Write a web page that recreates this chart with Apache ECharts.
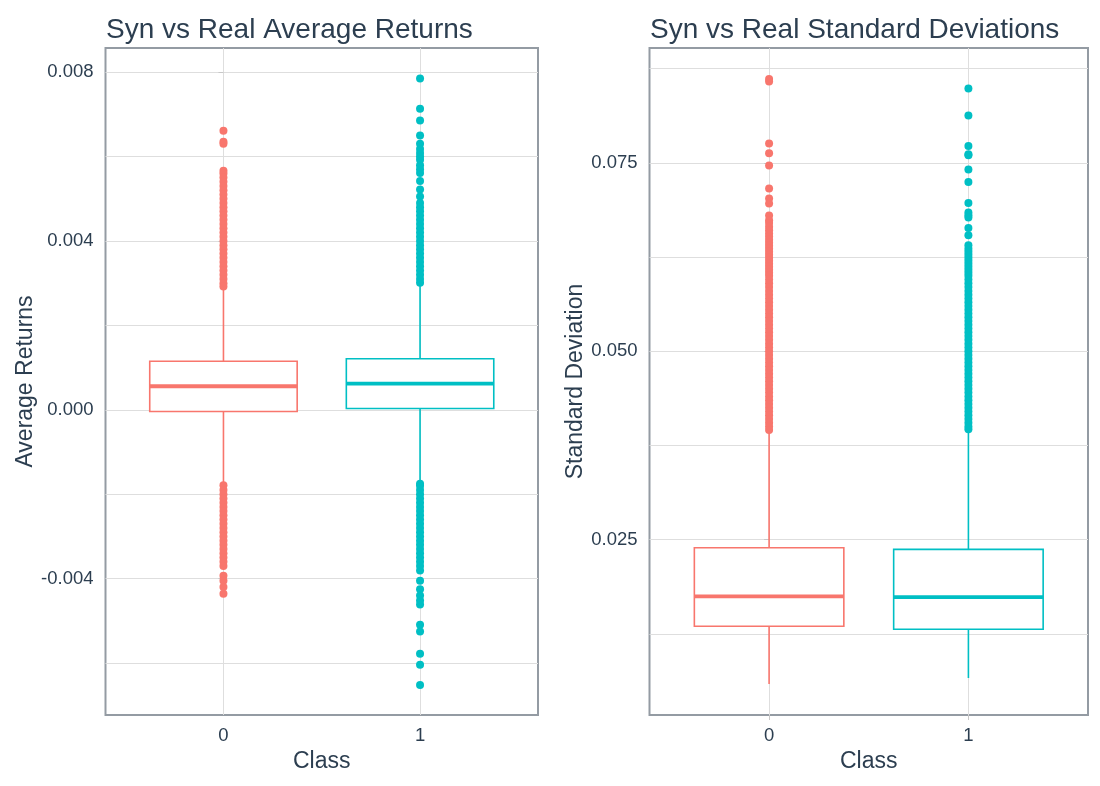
<!DOCTYPE html>
<html>
<head>
<meta charset="utf-8">
<script src="https://cdn.jsdelivr.net/npm/echarts@6/dist/echarts.min.js"></script>
<style>
html,body{margin:0;padding:0;background:#fff;}
#chart{width:1100px;height:786px;}
</style>
</head>
<body>
<div id="chart"></div>
<script>
// ---- data ----
const classes = [0, 1];
const classColors = ['#F8766D', '#00BFC4'];

// [lower whisker, Q1, median, Q3, upper whisker]
const retStats0 = [-0.00175, -0.00004, 0.000557, 0.00115, 0.00291];
const retStats1 = [-0.00171, 0.00003, 0.00062, 0.00121, 0.00300];
const sdStats0 = [0.00584, 0.01349, 0.01747, 0.02391, 0.03952];
const sdStats1 = [0.00663, 0.01309, 0.01737, 0.02370, 0.03962];

const retOutliers0 = [
  0.00661, 0.00635, 0.00630, 0.00566,
  0.0056, 0.0055, 0.0054, 0.0053, 0.0052, 0.0051, 0.0050, 0.0049, 0.0048, 0.0047,
  0.0046, 0.0045, 0.0044, 0.0043, 0.0042, 0.0041, 0.0040, 0.0039, 0.0038, 0.0037,
  0.0036, 0.0035, 0.0034, 0.0033, 0.0032, 0.0031, 0.0030, 0.00292,
  -0.00179, -0.0019, -0.0020, -0.0021, -0.0022, -0.0023, -0.0024, -0.0025, -0.0026,
  -0.0027, -0.0028, -0.0029, -0.0030, -0.0031, -0.0032, -0.0033, -0.0034, -0.0035,
  -0.0036, -0.0037, -0.00393, -0.00405, -0.00420, -0.00436
];
const retOutliers1 = [
  0.00785, 0.00713, 0.00685, 0.00650, 0.00630, 0.00618, 0.00608, 0.00600, 0.00592,
  0.00579, 0.00570, 0.00561, 0.00542, 0.00522, 0.00505,
  0.0049, 0.0048, 0.0047, 0.0046, 0.0045, 0.0044, 0.0043, 0.0042, 0.0041, 0.0040,
  0.0039, 0.0038, 0.0037, 0.0036, 0.0035, 0.0034, 0.0033, 0.0032, 0.0031, 0.00301,
  -0.00175, -0.0018, -0.0019, -0.0020, -0.0021, -0.0022, -0.0023, -0.0024, -0.0025,
  -0.0026, -0.0027, -0.0028, -0.0029, -0.0030, -0.0031, -0.0032, -0.0033, -0.0034,
  -0.0035, -0.0036, -0.0037, -0.00381, -0.00405, -0.00425, -0.00440, -0.00452,
  -0.00461, -0.00509, -0.00525, -0.00578, -0.00604, -0.00652
];
const sdOutliers0 = [
  0.08611, 0.08580, 0.07755, 0.07626, 0.07463, 0.07158, 0.07025, 0.06959, 0.06800,
  0.06737, 0.06700, 0.06650, 0.06605, 0.06561, 0.0652, 0.0648, 0.0644, 0.0640,
  0.0636, 0.0632, 0.0628, 0.0624, 0.0620, 0.0616, 0.0612, 0.0608, 0.0604, 0.0600,
  0.0595, 0.0590, 0.0585, 0.0580, 0.0575, 0.0570, 0.0565, 0.0560, 0.0555, 0.0550,
  0.0545, 0.0540, 0.0535, 0.0530, 0.0525, 0.0520, 0.0515, 0.0510, 0.0505, 0.0500,
  0.0495, 0.0490, 0.0485, 0.0480, 0.0475, 0.0470, 0.0465, 0.0460, 0.0455, 0.0450,
  0.0445, 0.0440, 0.0435, 0.0430, 0.0425, 0.0420, 0.0415, 0.0410, 0.0405, 0.0400,
  0.03955
];
const sdOutliers1 = [
  0.08484, 0.08126, 0.07723, 0.07613, 0.07600, 0.07410, 0.07245, 0.06967, 0.06840,
  0.06804, 0.06773, 0.06635, 0.06539, 0.06406, 0.0636, 0.0632, 0.0628, 0.0624,
  0.0620, 0.0616, 0.0612, 0.0608, 0.0604, 0.0600, 0.0595, 0.0590, 0.0585, 0.0580,
  0.0575, 0.0570, 0.0565, 0.0560, 0.0555, 0.0550, 0.0545, 0.0540, 0.0535, 0.0530,
  0.0525, 0.0520, 0.0515, 0.0510, 0.0505, 0.0500, 0.0495, 0.0490, 0.0485, 0.0480,
  0.0475, 0.0470, 0.0465, 0.0460, 0.0455, 0.0450, 0.0445, 0.0440, 0.0435, 0.0430,
  0.0425, 0.0420, 0.0415, 0.0410, 0.0405, 0.0400, 0.03965
];

const retMajorTicks = [-0.004, 0, 0.004, 0.008];
const retMinorTicks = [-0.006, -0.002, 0.002, 0.006];
const sdMajorTicks = [0.025, 0.050, 0.075];
const sdMinorTicks = [0.0125, 0.0375, 0.0625, 0.0875];
const retRange = [-0.00723, 0.00857];
const sdRange = [0.00172, 0.09023];
const xRange = [-0.6, 1.6];

// ---- style ----
const TEXT = '#2C3E50';
const BORDER = '#949BA3';
const GRID = '#DEDEDE';
const FONT = 'Liberation Sans, Arial, sans-serif';

const chart = echarts.init(document.getElementById('chart'));

function boxData(statsList) {
  return statsList.map((s, i) => [classes[i]].concat(s));
}
function outlierData(cls, vals) {
  return vals.map(v => [cls, v]);
}

function renderBox(params, api) {
  const x = api.value(0);
  const lo = api.coord([x, api.value(1)]);
  const q1 = api.coord([x, api.value(2)]);
  const md = api.coord([x, api.value(3)]);
  const q3 = api.coord([x, api.value(4)]);
  const hi = api.coord([x, api.value(5)]);
  const half = api.size([0.75, 0])[0] / 2;
  const c = classColors[params.dataIndex];
  const cx = lo[0];
  return {
    type: 'group',
    children: [
      { type: 'line', shape: { x1: cx, y1: q1[1], x2: cx, y2: lo[1] }, style: { stroke: c, lineWidth: 1.6 } },
      { type: 'line', shape: { x1: cx, y1: q3[1], x2: cx, y2: hi[1] }, style: { stroke: c, lineWidth: 1.6 } },
      { type: 'rect', shape: { x: cx - half, y: q3[1], width: half * 2, height: q1[1] - q3[1] }, style: { fill: '#fff', stroke: c, lineWidth: 1.6 } },
      { type: 'line', shape: { x1: cx - half, y1: md[1], x2: cx + half, y2: md[1] }, style: { stroke: c, lineWidth: 3.8 } }
    ]
  };
}

function xAxisFor(gridIndex) {
  return {
    type: 'value', gridIndex: gridIndex, min: xRange[0], max: xRange[1],
    name: 'Class', nameLocation: 'middle', nameGap: 34,
    nameTextStyle: { color: TEXT, fontSize: 23, fontFamily: FONT },
    axisLine: { show: false },
    axisTick: { show: true, length: 5, customValues: classes, lineStyle: { color: '#C8C8C8', width: 1 } },
    axisLabel: { customValues: classes, color: TEXT, fontSize: 18.5, fontFamily: FONT, margin: 11, formatter: v => String(v) },
    splitLine: { show: true, lineStyle: { color: GRID, width: 1 } }
  };
}

function yAxisMajor(gridIndex, range, ticks, name, gap) {
  return {
    type: 'value', gridIndex: gridIndex, min: range[0], max: range[1],
    name: name, nameLocation: 'middle', nameGap: gap,
    nameTextStyle: { color: TEXT, fontSize: 23, fontFamily: FONT },
    axisLine: { show: false },
    axisTick: { show: true, length: 5, customValues: ticks, lineStyle: { color: '#C8C8C8', width: 1 } },
    axisLabel: { customValues: ticks, color: TEXT, fontSize: 18.5, fontFamily: FONT, margin: 12, formatter: v => v.toFixed(3) },
    splitLine: { show: true, lineStyle: { color: GRID, width: 1 } }
  };
}
function yAxisMinor(gridIndex, range, ticks) {
  return {
    type: 'value', gridIndex: gridIndex, min: range[0], max: range[1], position: 'left',
    axisLine: { show: false },
    axisTick: { show: false, customValues: ticks },
    axisLabel: { show: false, customValues: ticks },
    splitLine: { show: true, lineStyle: { color: GRID, width: 1 } }
  };
}

const option = {
  backgroundColor: '#fff',
  animation: false,
  title: [
    { text: 'Syn vs Real Average Returns', left: 106, top: 16, padding: 0, textStyle: { color: TEXT, fontSize: 28, fontWeight: 'normal', fontFamily: FONT } },
    { text: 'Syn vs Real Standard Deviations', left: 650, top: 16, padding: 0, textStyle: { color: TEXT, fontSize: 28, fontWeight: 'normal', fontFamily: FONT } }
  ],
  grid: [
    { left: 105.5, top: 48, right: 562, bottom: 71, show: true, borderColor: BORDER, borderWidth: 2, backgroundColor: 'transparent' },
    { left: 649.5, top: 48, right: 12, bottom: 71, show: true, borderColor: BORDER, borderWidth: 2, backgroundColor: 'transparent' }
  ],
  xAxis: [xAxisFor(0), xAxisFor(1)],
  yAxis: [
    yAxisMajor(0, retRange, retMajorTicks, 'Average Returns', 60),
    yAxisMinor(0, retRange, retMinorTicks),
    yAxisMajor(1, sdRange, sdMajorTicks, 'Standard Deviation', 62),
    yAxisMinor(1, sdRange, sdMinorTicks)
  ],
  series: [
    { type: 'custom', xAxisIndex: 0, yAxisIndex: 0, renderItem: renderBox, data: boxData([retStats0, retStats1]), z: 3 },
    { type: 'scatter', xAxisIndex: 0, yAxisIndex: 0, symbolSize: 8, itemStyle: { color: classColors[0], opacity: 1 }, data: outlierData(0, retOutliers0), z: 4 },
    { type: 'scatter', xAxisIndex: 0, yAxisIndex: 0, symbolSize: 8, itemStyle: { color: classColors[1], opacity: 1 }, data: outlierData(1, retOutliers1), z: 4 },
    { type: 'custom', xAxisIndex: 1, yAxisIndex: 2, renderItem: renderBox, data: boxData([sdStats0, sdStats1]), z: 3 },
    { type: 'scatter', xAxisIndex: 1, yAxisIndex: 2, symbolSize: 8, itemStyle: { color: classColors[0], opacity: 1 }, data: outlierData(0, sdOutliers0), z: 4 },
    { type: 'scatter', xAxisIndex: 1, yAxisIndex: 2, symbolSize: 8, itemStyle: { color: classColors[1], opacity: 1 }, data: outlierData(1, sdOutliers1), z: 4 }
  ]
};
chart.setOption(option);
</script>
</body>
</html>
